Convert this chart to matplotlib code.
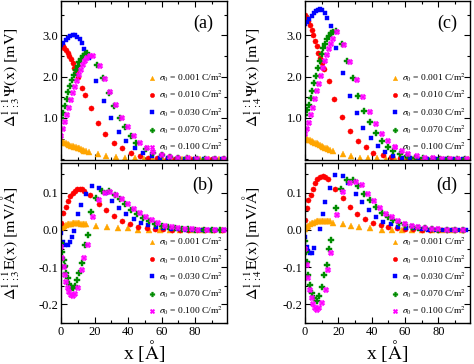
import numpy as np
import matplotlib
matplotlib.use('Agg')
import matplotlib.pyplot as plt
from matplotlib.ticker import MultipleLocator, FixedLocator, FormatStrFormatter

plt.rcParams['font.family'] = ['Liberation Serif', 'DejaVu Serif']
plt.rcParams['mathtext.fontset'] = 'stix'
plt.rcParams['axes.unicode_minus'] = False

sigmas = ['0.001', '0.010', '0.030', '0.070', '0.100']
colors = ['#ffa500', '#ff0000', '#0000ff', '#008b00', '#ff00ff']
markers = ['^', 'o', 's', 'P', 'X']
msizes = [3.8, 3.7, 3.4, 4.1, 3.9]

# ---- panel (a): Delta Psi, 1:3 ----
xa_orange = [0, 1, 2, 3, 4, 5, 6, 7, 8, 9, 10, 11, 12, 13, 14, 15, 16.5, 22, 27, 33, 38, 44, 49.5, 55, 61, 66, 72, 77.5, 83, 88.5, 94]
ya_orange = [.43, .42, .40, .38, .37, .35, .33, .32, .30, .29, .27, .26, .24, .23, .21, .20, .17, .12, .08, .05, .03, .02, .01, .005, 0, 0, 0, 0, 0, 0, 0]
xa_red = [0, 1, 2, 3, 4, 5, 6, 7, 8, 9, 10, 12.5, 14.5, 18, 22, 26.5, 31.5, 36.5, 42, 47, 52, 57, 63, 68, 74, 79, 85, 90, 96]
ya_red = [2.75, 2.73, 2.69, 2.64, 2.58, 2.50, 2.42, 2.32, 2.21, 2.10, 1.98, 1.73, 1.56, 1.23, 0.87, 0.60, 0.40, 0.26, 0.14, 0.08, 0.04, 0.02, 0.01, 0, 0, 0, 0, 0, 0]
xa_blue = [0, 1.4, 2.8, 4.2, 5.6, 7, 8.4, 9.8, 11.2, 12.5, 13.8, 16.5, 21, 25.5, 30, 34.5, 39, 44, 49, 54, 59, 64, 69, 74, 80, 85, 91, 96]
ya_blue = [2.76, 2.81, 2.88, 2.94, 2.98, 3.01, 3.01, 2.97, 2.92, 2.81, 2.66, 2.46, 1.90, 1.40, 1.00, 0.67, 0.45, 0.26, 0.16, 0.08, 0.04, 0.02, 0.01, 0, 0, 0, 0, 0]
xa_green = [0, 1.1, 2.2, 3.3, 4.4, 5.5, 6.6, 7.7, 8.8, 9.9, 11, 12.1, 13.2, 14.3, 15.5, 21.5, 25, 28.4, 31.8, 35, 38.4, 42, 45, 50.5, 55, 60, 65, 70, 75, 81, 86, 92, 97]
ya_green = [1.00, 1.12, 1.28, 1.45, 1.62, 1.78, 1.92, 2.05, 2.16, 2.26, 2.35, 2.43, 2.50, 2.55, 2.58, 2.28, 1.96, 1.61, 1.28, 1.00, 0.78, 0.56, 0.40, 0.24, 0.16, 0.10, 0.06, 0.03, 0.02, 0.01, 0, 0, 0]
xa_mag = [0, 1.2, 2.4, 3.6, 4.8, 6, 7.2, 8.4, 9.6, 10.8, 12, 13.2, 14.4, 15.6, 17, 19, 23, 26, 29.5, 33, 36.5, 40, 43.5, 47, 51, 55, 60, 65, 70, 76, 81, 87, 92, 97]
ya_mag = [0.55, 0.72, 0.90, 1.08, 1.25, 1.43, 1.60, 1.75, 1.90, 2.03, 2.15, 2.27, 2.37, 2.44, 2.49, 2.49, 2.26, 1.93, 1.62, 1.30, 1.00, 0.77, 0.57, 0.40, 0.28, 0.18, 0.10, 0.06, 0.03, 0.02, 0.01, 0, 0, 0]

# ---- panel (c): Delta Psi, 1:4 ----
xc_orange = [0, 1, 2, 3, 4, 5, 6, 7, 8, 9, 10, 11, 12, 13, 14, 15, 17, 22.5, 27.5, 33, 38, 43, 48.5, 54, 59.5, 65, 70.5, 76, 81.5, 87, 92.5, 98]
yc_orange = [0.50, 0.49, 0.47, 0.46, 0.44, 0.42, 0.40, 0.38, 0.36, 0.34, 0.32, 0.30, 0.28, 0.27, 0.25, 0.23, 0.20, 0.12, 0.08, 0.04, 0.03, 0.02, 0.01, 0.005, 0, 0, 0, 0, 0, 0, 0, 0]
xc_red = [0, 1, 2, 3, 4, 5, 6, 7, 8, 9, 10, 11.5, 14.2, 17.6, 22.4, 27.2, 31.6, 36.4, 41, 46.5, 51.5, 57, 62, 67.5, 73, 78, 84, 89, 95]
yc_red = [3.48, 3.42, 3.34, 3.24, 3.13, 3.00, 2.87, 2.73, 2.58, 2.44, 2.32, 2.18, 1.90, 1.46, 1.01, 0.68, 0.44, 0.29, 0.16, 0.10, 0.05, 0.03, 0.01, 0, 0, 0, 0, 0, 0]
xc_blue = [0, 1.3, 2.6, 3.9, 5.2, 6.5, 7.8, 9.1, 10.4, 11.7, 13, 15.4, 18.6, 22.6, 27, 31, 35, 39.4, 43.6, 48, 53, 58, 63, 68, 73, 78.5, 84, 89, 94.5]
yc_blue = [3.28, 3.33, 3.40, 3.47, 3.53, 3.58, 3.62, 3.64, 3.62, 3.55, 3.42, 3.22, 2.70, 2.09, 1.54, 1.12, 0.76, 0.52, 0.32, 0.17, 0.08, 0.04, 0.02, 0.01, 0, 0, 0, 0, 0]
xc_green = [0, 1.1, 2.2, 3.3, 4.4, 5.5, 6.6, 7.7, 8.8, 9.9, 11, 12.1, 13.2, 14.3, 15.4, 16.5, 18.6, 22, 25.4, 28.6, 32, 35.6, 39, 42.6, 46, 49.5, 53, 57, 61, 66, 71, 76, 81, 86, 91, 96]
yc_green = [1.08, 1.18, 1.32, 1.48, 1.65, 1.84, 2.02, 2.20, 2.38, 2.54, 2.68, 2.80, 2.90, 2.98, 3.05, 3.09, 3.10, 2.80, 2.37, 1.96, 1.53, 1.17, 0.90, 0.64, 0.44, 0.30, 0.20, 0.12, 0.07, 0.04, 0.02, 0.01, 0, 0, 0, 0]
xc_mag = [0, 1.2, 2.4, 3.6, 4.8, 6, 7.2, 8.4, 9.6, 10.8, 12, 13.2, 14.4, 15.6, 16.8, 19.2, 23.2, 27.2, 31, 35, 38.8, 42.6, 46.4, 50, 54, 58, 62, 67, 72, 77, 82, 87, 92, 97]
yc_mag = [0.60, 0.72, 0.88, 1.06, 1.25, 1.45, 1.64, 1.83, 2.02, 2.20, 2.37, 2.52, 2.66, 2.80, 2.92, 3.08, 2.76, 2.35, 1.92, 1.50, 1.15, 0.86, 0.62, 0.44, 0.30, 0.20, 0.12, 0.07, 0.04, 0.02, 0.01, 0, 0, 0]

# ---- panel (b): Delta E, 1:3 ----
xb_orange = [0, 1, 2, 3, 4, 5, 6, 7, 8, 9, 10, 11, 12, 13, 14, 15, 21, 27.5, 34, 40, 46, 52.5, 59, 65, 71, 77.5, 84, 90, 96]
yb_orange = [0.005, 0.009, 0.012, 0.014, 0.016, 0.017, 0.017, 0.018, 0.018, 0.018, 0.018, 0.018, 0.017, 0.017, 0.017, 0.016, 0.011, 0.008, 0.006, 0.004, 0.001, 0, 0, 0, 0, 0, 0, 0, 0]
xb_red = [0, 1.4, 2.8, 4.2, 5.6, 7, 8.4, 9.8, 11.2, 12.6, 14, 17.5, 22.5, 27, 31.4, 36.4, 41.4, 46, 51, 56, 61, 66, 71, 76, 81, 86, 91, 96]
yb_red = [0.018, 0.045, 0.063, 0.078, 0.090, 0.099, 0.105, 0.109, 0.111, 0.110, 0.106, 0.094, 0.071, 0.053, 0.038, 0.024, 0.015, 0.009, 0.005, 0.003, 0.002, 0.001, 0, 0, 0, 0, 0, 0]
xb_blue = [0, 1.4, 2.6, 4, 5.4, 6.6, 7.5, 10, 12, 14.8, 18.5, 22.9, 26.7, 30.6, 34.6, 38.9, 43.3, 47.5, 52, 56.5, 61, 65.5, 70, 74.5, 79, 83.5, 88, 92.5, 97]
yb_blue = [-0.009, -0.031, -0.040, -0.041, -0.033, -0.018, -0.004, 0.042, 0.067, 0.096, 0.118, 0.114, 0.100, 0.078, 0.060, 0.042, 0.029, 0.020, 0.013, 0.008, 0.005, 0.003, 0.002, 0.001, 0, 0, 0, 0, 0]
xb_green = [0, 0.8, 1.6, 2.4, 3.2, 4, 5, 6, 7, 8.3, 9.6, 11, 12.6, 14.6, 16.2, 18, 21, 24.4, 28.4, 32, 35, 38.4, 42, 45.4, 49, 52.4, 56, 60, 64, 68, 72, 76, 80, 85, 90, 95]
yb_green = [-0.035, -0.06, -0.08, -0.098, -0.115, -0.13, -0.145, -0.155, -0.157, -0.15, -0.135, -0.115, -0.089, -0.040, -0.013, 0.049, 0.087, 0.104, 0.104, 0.094, 0.082, 0.069, 0.055, 0.042, 0.031, 0.024, 0.017, 0.011, 0.007, 0.005, 0.003, 0.002, 0.001, 0, 0, 0]
xb_mag = [0, 0.8, 1.6, 2.4, 3.2, 4, 5, 6, 7, 8.3, 9.9, 12.5, 14, 15.9, 19, 22.5, 26, 29.5, 33, 36.5, 40, 43.5, 47, 50.5, 54, 58, 62, 66, 70, 74, 78, 82, 87, 92, 97]
yb_mag = [-0.045, -0.075, -0.10, -0.12, -0.14, -0.155, -0.167, -0.175, -0.177, -0.172, -0.156, -0.107, -0.075, -0.040, 0.036, 0.080, 0.100, 0.102, 0.094, 0.083, 0.070, 0.057, 0.045, 0.035, 0.026, 0.018, 0.012, 0.008, 0.005, 0.003, 0.002, 0.001, 0, 0, 0]

# ---- panel (d): Delta E, 1:4 ----
xd_orange = [0, 1, 2, 3, 4, 5, 6, 7, 8, 9, 10, 11, 12, 13, 14, 15, 17, 22.6, 27.6, 32.6, 39, 46, 52, 58, 64, 70, 76, 82, 88, 94]
yd_orange = [0.003, 0.008, 0.012, 0.015, 0.018, 0.020, 0.022, 0.023, 0.024, 0.025, 0.025, 0.025, 0.025, 0.024, 0.024, 0.023, 0.020, 0.015, 0.011, 0.009, 0.005, 0.001, 0, 0, 0, 0, 0, 0, 0, 0]
xd_red = [0, 1, 2, 3.4, 4.6, 6, 7.4, 9, 10.6, 12, 14, 18, 22.6, 27, 31.4, 36, 40.6, 45.6, 50, 55, 60, 65, 70, 75, 80, 85, 90, 95]
yd_red = [0.027, 0.058, 0.080, 0.095, 0.111, 0.125, 0.136, 0.143, 0.145, 0.143, 0.136, 0.111, 0.086, 0.062, 0.043, 0.029, 0.018, 0.013, 0.009, 0.005, 0.003, 0.002, 0.001, 0, 0, 0, 0, 0]
xd_blue = [0, 1, 2, 3, 4.2, 5.4, 9, 10.6, 12, 15, 18.2, 22.5, 26, 30.4, 34.4, 38.4, 42.6, 47, 51.6, 56, 60.5, 65, 69.5, 74, 78.5, 83, 87.5, 92, 96.5]
yd_blue = [-0.018, -0.045, -0.057, -0.062, -0.062, -0.049, 0.003, 0.043, 0.076, 0.113, 0.147, 0.146, 0.125, 0.098, 0.074, 0.053, 0.036, 0.022, 0.015, 0.009, 0.006, 0.004, 0.002, 0.001, 0, 0, 0, 0, 0]
xd_green = [0, 0.7, 1.4, 2, 3, 4, 5.4, 7, 8.6, 10, 11.4, 13, 14.6, 15.6, 18.6, 21.6, 25, 29, 32, 35.6, 39, 42.6, 46, 49.6, 53, 56.5, 60, 64, 68, 72, 76, 80, 85, 90, 95]
yd_green = [-0.03, -0.06, -0.085, -0.12, -0.147, -0.169, -0.183, -0.190, -0.178, -0.152, -0.120, -0.094, -0.051, -0.027, 0.058, 0.111, 0.134, 0.133, 0.118, 0.098, 0.080, 0.062, 0.046, 0.034, 0.027, 0.019, 0.013, 0.009, 0.006, 0.004, 0.002, 0.001, 0, 0, 0]
xd_mag = [0, 1, 2, 3, 4, 5, 6, 7.4, 8.6, 10, 12.6, 14, 15.4, 19.4, 23, 27, 30.6, 34, 38, 41.4, 45, 48.6, 52, 56, 60, 64, 68, 72, 76, 80, 85, 90, 95]
yd_mag = [-0.05, -0.094, -0.13, -0.16, -0.183, -0.20, -0.209, -0.214, -0.211, -0.196, -0.16, -0.107, -0.062, 0.040, 0.102, 0.125, 0.128, 0.120, 0.098, 0.077, 0.059, 0.043, 0.034, 0.024, 0.016, 0.011, 0.007, 0.004, 0.003, 0.002, 0.001, 0, 0]

panels = {
    'a': [(xa_orange, ya_orange), (xa_red, ya_red), (xa_blue, ya_blue), (xa_green, ya_green), (xa_mag, ya_mag)],
    'b': [(xb_orange, yb_orange), (xb_red, yb_red), (xb_blue, yb_blue), (xb_green, yb_green), (xb_mag, yb_mag)],
    'c': [(xc_orange, yc_orange), (xc_red, yc_red), (xc_blue, yc_blue), (xc_green, yc_green), (xc_mag, yc_mag)],
    'd': [(xd_orange, yd_orange), (xd_red, yd_red), (xd_blue, yd_blue), (xd_green, yd_green), (xd_mag, yd_mag)],
}
ylabels = {
    'a': r'$\Delta^{1:1}_{1:3}\Psi(\mathrm{x})\ [\mathrm{mV}]$',
    'b': r'$\Delta^{1:1}_{1:3}\mathrm{E}(\mathrm{x})\ [\mathrm{mV/\AA}]$',
    'c': r'$\Delta^{1:1}_{1:4}\Psi(\mathrm{x})\ [\mathrm{mV}]$',
    'd': r'$\Delta^{1:1}_{1:4}\mathrm{E}(\mathrm{x})\ [\mathrm{mV/\AA}]$',
}

fig = plt.figure(figsize=(4.74, 3.64), dpi=100)
W, H = 474.0, 364.0
boxes = {
    'a': [61 / W, (H - 160) / H, 166 / W, 159 / H],
    'b': [61 / W, (H - 323) / H, 166 / W, 160 / H],
    'c': [305 / W, (H - 160) / H, 165 / W, 159 / H],
    'd': [305 / W, (H - 323) / H, 165 / W, 160 / H],
}

for key in ['a', 'b', 'c', 'd']:
    ax = fig.add_axes(boxes[key])
    for i, (xs, ys) in enumerate(panels[key]):
        ax.plot(xs, ys, linestyle='none', marker=markers[i], color=colors[i],
                markersize=msizes[i], markeredgewidth=0.3, markeredgecolor=colors[i],
                label=r'$\sigma_0$ = ' + sigmas[i] + r' C/m$^2$')
    ax.set_xlim(0, 99)
    ax.xaxis.set_major_locator(MultipleLocator(20))
    ax.xaxis.set_minor_locator(MultipleLocator(10))
    if key in ('a', 'c'):
        ax.set_ylim(-0.02, 3.83)
        ax.yaxis.set_major_locator(FixedLocator([1.0, 2.0, 3.0]))
        ax.yaxis.set_minor_locator(MultipleLocator(0.5))
        ax.set_xticklabels([])
        leg_anchor = (1.0, 0.58)
        label_y = 0.52
    else:
        ax.set_ylim(-0.25, 0.18)
        ax.yaxis.set_major_locator(MultipleLocator(0.1))
        ax.yaxis.set_minor_locator(MultipleLocator(0.05))
        ax.set_xlabel(r'x [$\mathrm{\AA}$]', fontsize=14, labelpad=0)
        leg_anchor = (1.0, 0.57)
        label_y = 0.5
    ax.yaxis.set_major_formatter(FormatStrFormatter('%.1f'))
    ax.tick_params(which='both', direction='in', top=True, right=True, labelsize=9, pad=2)
    ax.tick_params(which='major', length=4, width=0.8)
    ax.tick_params(which='minor', length=2.5, width=0.8)
    for sp in ax.spines.values():
        sp.set_linewidth(1.0)
    ax.set_ylabel(ylabels[key], fontsize=11.5)
    ax.yaxis.set_label_coords(-0.235 if key in ('a', 'b') else -0.25, label_y)
    ax.text(0.92, 0.86, '(' + key + ')', transform=ax.transAxes, fontsize=13,
            ha='right', va='center')
    ax.legend(loc='upper right', bbox_to_anchor=leg_anchor, frameon=False,
              fontsize=6.8, labelspacing=0.5, handletextpad=0.3, handlelength=1.0,
              borderaxespad=0.2, borderpad=0.2, markerscale=0.85)

fig.savefig('out.png', dpi=100)
